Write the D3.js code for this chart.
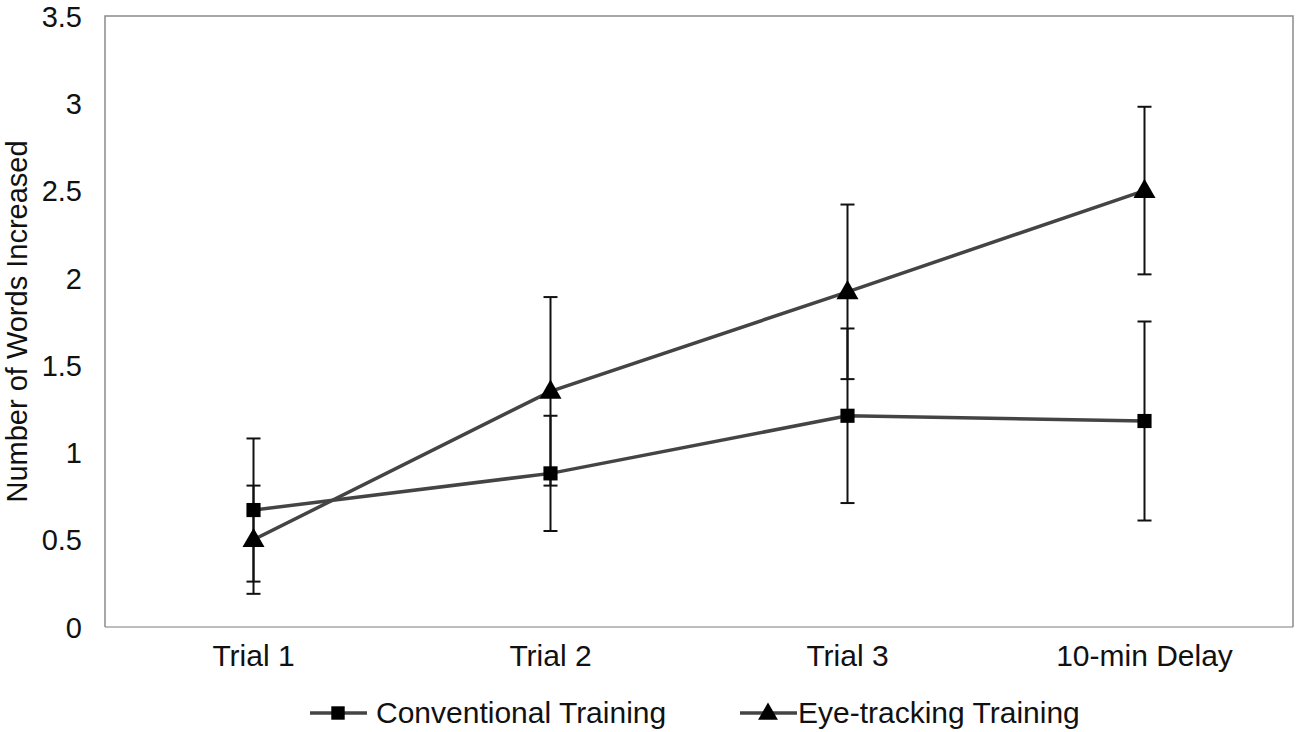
<!DOCTYPE html>
<html>
<head>
<meta charset="utf-8">
<script src="https://cdn.jsdelivr.net/npm/d3@7"></script>
<style>
  body { margin: 0; background: #fff; }
  text { font-family: "Liberation Sans", Arial, sans-serif; fill: #111; }
</style>
</head>
<body>
<div id="graph"></div>
<script>
var w = 1297
var h = 732

// data
var categories = ["Trial 1", "Trial 2", "Trial 3", "10-min Delay"]
var conventional = [0.67, 0.88, 1.21, 1.18]
var conventionalErr = [0.41, 0.33, 0.50, 0.57]
var eyeTracking = [0.50, 1.35, 1.92, 2.50]
var eyeTrackingErr = [0.31, 0.54, 0.50, 0.48]
var yTicks = [0, 0.5, 1, 1.5, 2, 2.5, 3, 3.5]

// plot box edges (top is a reserved window name, so prefix them)
var plotL = 105, plotR = 1293, plotT = 16, plotB = 627

var svg = d3.select("#graph").append("svg")
    .attr("width", w)
    .attr("height", h)

var x = d3.scaleBand().domain(categories).range([plotL, plotR])
var y = d3.scaleLinear().domain([0, 3.5]).range([plotB, plotT])
var cx = function (d) { return x(d) + x.bandwidth() / 2 }

// plot frame
svg.append("line").attr("x1", plotL).attr("x2", plotR).attr("y1", plotB).attr("y2", plotB)
    .attr("stroke", "#bdbdbd").attr("stroke-width", 2)
svg.append("path")
    .attr("d", "M" + plotL + "," + plotB + "V" + plotT + "H" + plotR + "V" + plotB)
    .attr("fill", "none").attr("stroke", "#8a8a8a").attr("stroke-width", 1.5)

// y axis labels
var yAxis = d3.axisLeft(y).tickValues(yTicks).tickSize(0).tickPadding(23)
    .tickFormat(function (d) { return d })
var yg = svg.append("g").attr("transform", "translate(" + plotL + ",0)").call(yAxis)
yg.select(".domain").remove()
yg.selectAll("text").style("font-size", "29px").attr("dy", "0.35em")

// x axis labels
var xAxis = d3.axisBottom(x).tickSize(0).tickPadding(18)
var xg = svg.append("g").attr("transform", "translate(0," + plotB + ")").call(xAxis)
xg.select(".domain").remove()
xg.selectAll("text").style("font-size", "30px")

// y axis title
svg.append("text")
    .attr("transform", "translate(27," + (plotT + plotB) / 2 + ") rotate(-90)")
    .attr("text-anchor", "middle")
    .style("font-size", "29px")
    .text("Number of Words Increased")

var series = [
    { name: "Conventional Training", values: conventional, err: conventionalErr, shape: d3.symbolSquare },
    { name: "Eye-tracking Training", values: eyeTracking, err: eyeTrackingErr, shape: d3.symbolTriangle }
]

var line = d3.line()
    .x(function (d, i) { return cx(categories[i]) })
    .y(function (d) { return y(d) })

// error bars
series.forEach(function (s) {
    var g = svg.append("g")
    s.values.forEach(function (v, i) {
        var px = cx(categories[i])
        var lo = y(v - s.err[i]), hi = y(v + s.err[i])
        g.append("line").attr("x1", px).attr("x2", px).attr("y1", lo).attr("y2", hi)
            .attr("stroke", "#111").attr("stroke-width", 2)
        g.append("line").attr("x1", px - 7).attr("x2", px + 7).attr("y1", lo).attr("y2", lo)
            .attr("stroke", "#111").attr("stroke-width", 2)
        g.append("line").attr("x1", px - 7).attr("x2", px + 7).attr("y1", hi).attr("y2", hi)
            .attr("stroke", "#111").attr("stroke-width", 2)
    })
})

series.forEach(function (s) {
    svg.append("path")
        .datum(s.values)
        .attr("d", line)
        .attr("fill", "none")
        .attr("stroke", "#444")
        .attr("stroke-width", 3.5)
})

series.forEach(function (s) {
    var tri = s.shape === d3.symbolTriangle
    svg.append("g").selectAll("path")
        .data(s.values)
        .join("path")
        .attr("transform", function (d, i) { return "translate(" + cx(categories[i]) + "," + (y(d) + (tri ? 1 : 0)) + ")" })
        .attr("d", d3.symbol().type(s.shape).size(tri ? 210 : 200))
        .attr("fill", "#000")
})

// legend
var legendX = [310, 740]
var legendTextX = [376, 798]
series.forEach(function (s, i) {
    var lx = legendX[i], ly = 713
    var tri = s.shape === d3.symbolTriangle
    svg.append("line").attr("x1", lx).attr("x2", lx + 57).attr("y1", ly).attr("y2", ly)
        .attr("stroke", "#444").attr("stroke-width", 3.5)
    svg.append("path")
        .attr("transform", "translate(" + (lx + 28) + "," + (ly + (tri ? 1 : 0)) + ")")
        .attr("d", d3.symbol().type(s.shape).size(tri ? 170 : 180))
        .attr("fill", "#000")
    svg.append("text")
        .attr("x", legendTextX[i]).attr("y", 723)
        .style("font-size", "30px")
        .text(s.name)
})
</script>
</body>
</html>
